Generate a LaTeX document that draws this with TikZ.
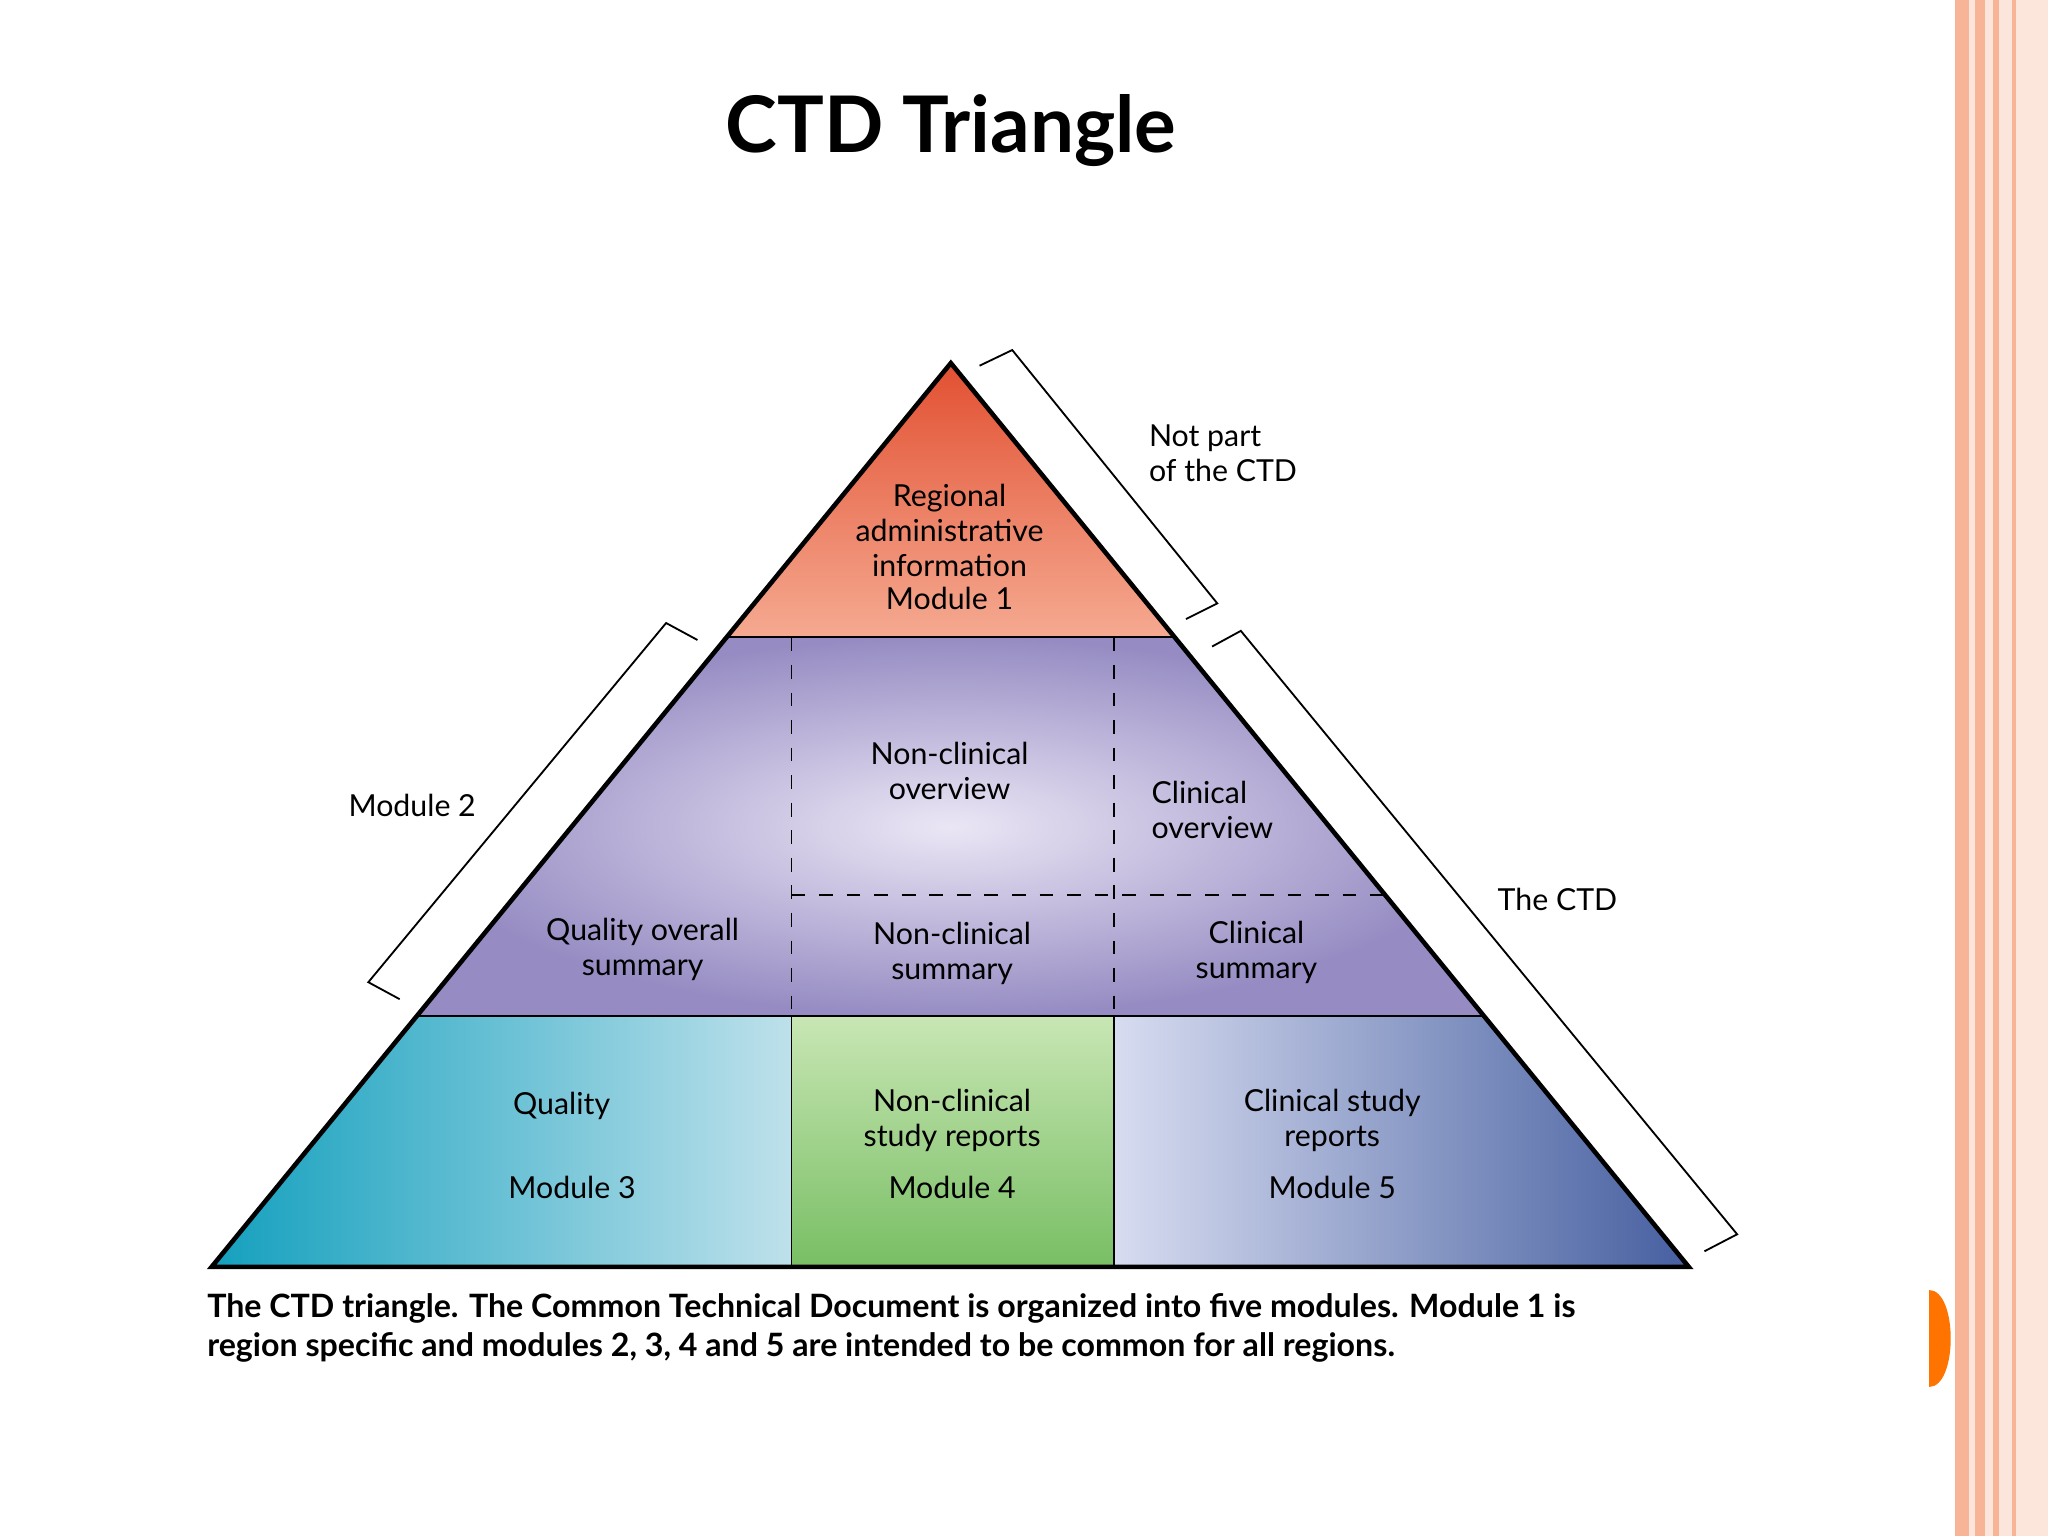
\documentclass[tikz,border=0pt]{standalone}
\usepackage{fontspec}
\setmainfont{Lato}
\usetikzlibrary{positioning}
\definecolor{topred}{RGB}{226,80,50}
\definecolor{toplight}{RGB}{245,170,145}
\definecolor{midpurple}{RGB}{150,140,195}
\definecolor{midlight}{RGB}{235,230,245}
\definecolor{qteal}{RGB}{20,160,190}
\definecolor{qlight}{RGB}{190,225,235}
\definecolor{ngreen}{RGB}{120,190,100}
\definecolor{nlight}{RGB}{200,230,180}
\definecolor{cblue}{RGB}{70,95,160}
\definecolor{clight}{RGB}{215,220,240}
\definecolor{stripe}{RGB}{248,180,150}
\begin{document}
\begin{tikzpicture}[x=0.01cm,y=-0.01cm,
  lbl/.style={align=center,font=\fontsize{6.6}{7.6}\selectfont,inner sep=0pt},
  brk/.style={draw=black,line width=0.4pt}]
  \useasboundingbox (0,0) rectangle (1568,1176);
  \fill[white] (0,0) rectangle (1568,1176);
  % right border stripes
  \fill[stripe!35] (1500,0) rectangle (1568,1176);
  \foreach \x/\w in {1502/3,1516/2,1528/1.2,1542/1} \draw[stripe,line width=\w pt] (\x,0) -- (\x,1176);
  \fill[orange!90!red] (1477,988) .. controls (1499,988) and (1499,1062) .. (1477,1062) -- cycle;
  % pyramid
  \shade[top color=topred,bottom color=toplight] (728,278) -- (899,488) -- (556,488) -- cycle;
  \shade[inner color=midlight,outer color=midpurple] (556,488) -- (899,488) -- (1136,778) -- (319,778) -- cycle;
  \shade[left color=qteal,right color=qlight] (319,778) -- (606,778) -- (606,970) -- (162,970) -- cycle;
  \shade[bottom color=ngreen,top color=nlight] (606,778) rectangle (853,970);
  \shade[right color=cblue,left color=clight] (853,778) -- (1136,778) -- (1293,970) -- (853,970) -- cycle;
  \draw[line width=1pt] (728,278) -- (1293,970) -- (162,970) -- cycle;
  \draw (556,488) -- (899,488);
  \draw (319,778) -- (1136,778);
  \draw (606,778) -- (606,970) (853,778) -- (853,970);
  \draw[dashed] (606,488) -- (606,778) (853,488) -- (853,778) (606,685) -- (1060,685);
  % brackets
  \draw[brk] (750,280) -- (775,268) -- (932,462) -- (908,474);
  \draw[brk] (928,495) -- (950,483) -- (1330,945) -- (1305,958);
  \draw[brk] (534,490) -- (510,477) -- (282,752) -- (306,765);
  % texts
  \node[font=\bfseries\fontsize{17}{20}\selectfont] (title) at (728,100) {CTD Triangle};
  \node[lbl] (m1) at (727,406) {Regional\\administrative\\information};
  \node[lbl] (m1n) at (727,458) {Module 1};
  \node[lbl,align=left,anchor=west] (notpart) at (879,347) {Not part\\of the CTD};
  \node[lbl,align=left,anchor=west] (thectd) at (1146,689) {The CTD};
  \node[lbl,anchor=east] (m2) at (365,617) {Module 2};
  \node[lbl] (nco) at (727,590) {Non-clinical\\overview};
  \node[lbl,align=left,anchor=west] (co) at (881,620) {Clinical\\overview};
  \node[lbl] (qos) at (492,727) {Quality overall\\summary};
  \node[lbl] (ncs) at (729,730) {Non-clinical\\summary};
  \node[lbl] (cs) at (962,729) {Clinical\\summary};
  \node[lbl] (q) at (430,847) {Quality};
  \node[lbl] (m3) at (438,909) {Module 3};
  \node[lbl] (ncsr) at (729,858) {Non-clinical\\study reports};
  \node[lbl] (m4) at (729,909) {Module 4};
  \node[lbl] (csr) at (1020,858) {Clinical study\\reports};
  \node[lbl] (m5) at (1020,909) {Module 5};
  \node[lbl,align=left,anchor=north west,font=\bfseries\fontsize{7}{8.5}\selectfont] (cap) at (158,990)
    {The CTD triangle. The Common Technical Document is organized into five modules. Module 1 is\\region specific and modules 2, 3, 4 and 5 are intended to be common for all regions.};
\end{tikzpicture}
\end{document}
